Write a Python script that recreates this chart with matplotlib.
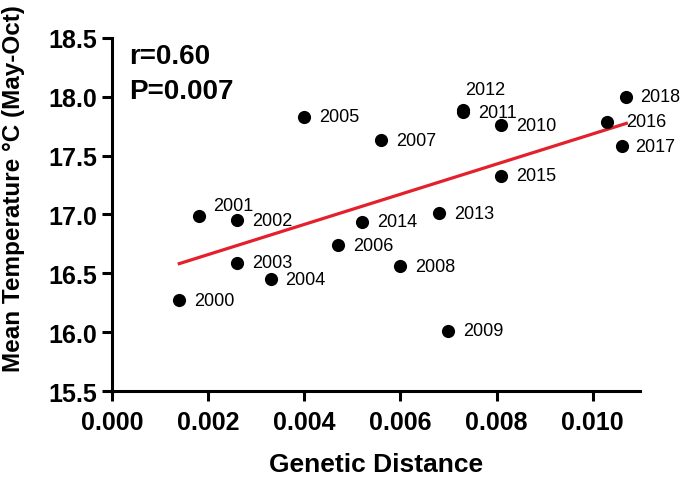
import numpy as np
import matplotlib
matplotlib.use("Agg")
import matplotlib.pyplot as plt

years = [2000, 2001, 2002, 2003, 2004, 2005, 2006, 2007, 2008, 2009,
         2010, 2011, 2012, 2013, 2014, 2015, 2016, 2017, 2018]
genetic_distance = [0.0014, 0.0018, 0.0026, 0.0026, 0.0033, 0.0040, 0.0047, 0.0056, 0.0060, 0.0070,
                    0.0081, 0.0073, 0.0073, 0.0068, 0.0052, 0.0081, 0.0103, 0.0106, 0.0107]
mean_temp = [16.27, 16.99, 16.95, 16.59, 16.45, 17.83, 16.74, 17.63, 16.56, 16.01,
             17.76, 17.87, 17.89, 17.01, 16.94, 17.33, 17.79, 17.58, 18.00]

x_ticks = [0.000, 0.002, 0.004, 0.006, 0.008, 0.010]
y_ticks = [15.5, 16.0, 16.5, 17.0, 17.5, 18.0, 18.5]
r_text = "r=0.60"
p_text = "P=0.007"

plt.rcParams["font.family"] = ["Liberation Sans", "DejaVu Sans"]

fig = plt.figure(figsize=(6.85, 4.81), dpi=100)
ax = fig.add_axes([0.1635, 0.185, 0.7705, 0.734])

x = np.array(genetic_distance)
y = np.array(mean_temp)

# linear fit drawn over the data range
slope, intercept = np.polyfit(x, y, 1)
fit_x = np.array([x.min(), x.max()])
ax.plot(fit_x, slope * fit_x + intercept, color="#e3202b", lw=2.3, zorder=2)

ax.scatter(x, y, s=90, color="black", zorder=3, linewidths=0)

# label placement (pixels), default is to the right of the dot
label_offsets = {2001: (15, 10), 2012: (2, 20), 2016: (19, 0), 2017: (14, 0), 2018: (14, 0)}
for yr, gx, t in zip(years, genetic_distance, mean_temp):
    dx, dy = label_offsets.get(yr, (15, 0))
    ax.annotate(str(yr), (gx, t), xytext=(dx, dy), textcoords="offset pixels",
                fontsize=13, va="center", ha="left", zorder=4)

ax.set_xlim(0, 0.01098)
ax.set_ylim(15.5, 18.5)
ax.set_xticks(x_ticks)
ax.set_xticklabels(["%.3f" % v for v in x_ticks])
ax.set_yticks(y_ticks)
ax.set_yticklabels(["%.1f" % v for v in y_ticks])

for side in ["top", "right"]:
    ax.spines[side].set_visible(False)
for side in ["left", "bottom"]:
    ax.spines[side].set_linewidth(2.2)

ax.tick_params(axis="both", length=7.5, width=2.2, labelsize=18)
ax.tick_params(axis="x", pad=6)
ax.tick_params(axis="y", pad=3)
for lab in ax.get_xticklabels() + ax.get_yticklabels():
    lab.set_fontweight("bold")

ax.set_xlabel("Genetic Distance", fontsize=19, fontweight="bold")
ax.xaxis.set_label_coords(0.5, -0.207)
ax.xaxis.label.set_va("center")
ax.set_ylabel("Mean Temperature °C (May-Oct)", fontsize=17.5, fontweight="bold")
ax.yaxis.set_label_coords(-0.186, 0.575)
ax.yaxis.label.set_va("center")

ax.text(0.032, 0.929, r_text, transform=ax.transAxes, fontsize=20, fontweight="bold",
        va="baseline", ha="left")
ax.text(0.032, 0.830, p_text, transform=ax.transAxes, fontsize=20, fontweight="bold",
        va="baseline", ha="left")

fig.savefig("out.png", dpi=100)
